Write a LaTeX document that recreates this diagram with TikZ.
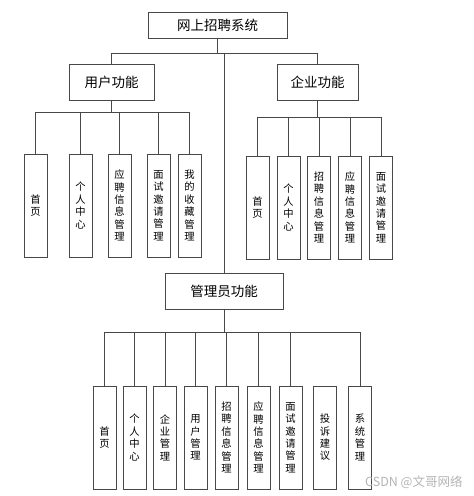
\documentclass[tikz,border=0pt]{standalone}
\usepackage{fontspec}
\setmainfont{Noto Sans CJK SC}
\usepackage[dvipsnames]{xcolor}
\definecolor{linegray}{HTML}{484848}
\definecolor{markgray}{HTML}{B4B4B4}

\begin{document}
\begin{tikzpicture}[x=1pt,y=-1pt,-,thick,line width=1pt,draw=linegray,
    head node/.style={draw=linegray,fill=white,inner sep=0pt,font=\fontsize{13.5}{15}\selectfont},
    leaf node/.style={draw=linegray,fill=white,inner sep=0pt,minimum width=23pt,minimum height=103pt,
        align=center,font=\fontsize{10.3}{12.4}\selectfont}]

                    \useasboundingbox (0,0) rectangle (474,496);

                    \node[head node, minimum width=139pt, minimum height=26pt] (top) at (217.5,25) {网上招聘系统};
                    \node[head node, minimum width=85pt, minimum height=36pt] (user) at (111.5,82) {用户功能};
                    \node[head node, minimum width=81pt, minimum height=36pt] (ent) at (317.5,82) {企业功能};
                    \node[head node, minimum width=118pt, minimum height=36pt] (admin) at (224,291) {管理员功能};

                    \coordinate (b0) at (0,53);
                    \coordinate (b1) at (0,112);
                    \coordinate (b2) at (0,117);
                    \coordinate (b3) at (0,332);

                    % user leaves
                    \node[leaf node] (u1) at (35.5,205.5) {首\\页};
                    \node[leaf node] (u2) at (80.5,205.5) {个\\人\\中\\心};
                    \node[leaf node] (u3) at (119.5,205.5) {应\\聘\\信\\息\\管\\理};
                    \node[leaf node] (u4) at (158.5,205.5) {面\\试\\邀\\请\\管\\理};
                    \node[leaf node] (u5) at (189.5,205.5) {我\\的\\收\\藏\\管\\理};

                    % enterprise leaves
                    \node[leaf node] (e1) at (257.5,207.5) {首\\页};
                    \node[leaf node] (e2) at (288.5,207.5) {个\\人\\中\\心};
                    \node[leaf node] (e3) at (319,207.5) {招\\聘\\信\\息\\管\\理};
                    \node[leaf node] (e4) at (350,207.5) {应\\聘\\信\\息\\管\\理};
                    \node[leaf node] (e5) at (381,207.5) {面\\试\\邀\\请\\管\\理};

                    % admin leaves
                    \node[leaf node] (a1) at (104.5,437.5) {首\\页};
                    \node[leaf node] (a2) at (134.5,437.5) {个\\人\\中\\心};
                    \node[leaf node] (a3) at (165,437.5) {企\\业\\管\\理};
                    \node[leaf node] (a4) at (195.5,437.5) {用\\户\\管\\理};
                    \node[leaf node] (a5) at (226.5,437.5) {招\\聘\\信\\息\\管\\理};
                    \node[leaf node] (a6) at (258.5,437.5) {应\\聘\\信\\息\\管\\理};
                    \node[leaf node] (a7) at (290.5,437.5) {面\\试\\邀\\请\\管\\理};
                    \node[leaf node] (a8) at (325,437.5) {投\\诉\\建\\议};
                    \node[leaf node] (a9) at (360,437.5) {系\\统\\管\\理};

                    \path[draw=linegray]
                        (top.south) edge (top.south |- b0)
                        (admin.north) edge (admin.north |- b0)
                        (user.south) edge (user.south |- b1)
                        (ent.south) edge (ent.south |- b2)
                        (admin.south) edge (admin.south |- b3)
                        ;
                    \draw (user.north) -- (user.north |- b0) -- (ent.north |- b0) -- (ent.north);
                    \draw (u1.north) -- (u1.north |- b1) -- (u5.north |- b1) -- (u5.north);
                    \draw (e1.north) -- (e1.north |- b2) -- (e5.north |- b2) -- (e5.north);
                    \draw (a1.north) -- (a1.north |- b3) -- (a9.north |- b3) -- (a9.north);
                    \foreach \i in {2,3,4} \draw (u\i.north) -- (u\i.north |- b1);
                    \foreach \i in {2,3,4} \draw (e\i.north) -- (e\i.north |- b2);
                    \foreach \i in {2,...,7} \draw (a\i.north) -- (a\i.north |- b3);

                    \node[text=markgray, font=\fontsize{12.5}{14}\selectfont, anchor=east, inner sep=0pt] (mark) at (463,482) {CSDN @文哥网络};
                \end{tikzpicture}
\end{document}
